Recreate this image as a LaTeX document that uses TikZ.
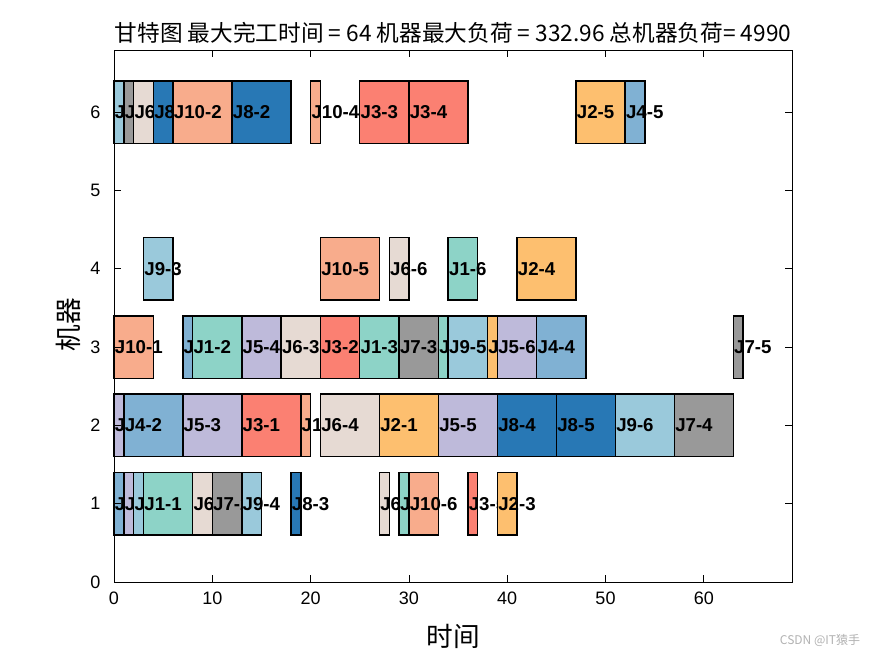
\documentclass[tikz,border=0pt]{standalone}
\usepackage{fontspec}
\setmainfont{Liberation Sans}
\newfontfamily\cjk{Noto Sans CJK SC}
\definecolor{cA}{HTML}{8DD3C7}
\definecolor{cB}{HTML}{FDBF6F}
\definecolor{cC}{HTML}{FB8072}
\definecolor{cD}{HTML}{80B1D3}
\definecolor{cE}{HTML}{BEBADA}
\definecolor{cF}{HTML}{E6DAD3}
\definecolor{cG}{HTML}{999999}
\definecolor{cH}{HTML}{2878B5}
\definecolor{cI}{HTML}{9AC9DB}
\definecolor{cJ}{HTML}{F8AC8C}
\tikzset{
  bar/.style={draw=black, line width=1.1pt},
  blabel/.style={anchor=west, inner sep=0pt, xshift=0.5pt, font=\fontsize{14}{16}\selectfont\bfseries},
  tick/.style={font=\fontsize{13.5}{15}\selectfont},
}
\begin{document}
\begin{tikzpicture}[x=0.75pt,y=0.75pt]
\useasboundingbox (0,0) rectangle (875,656);
\fill[white] (0,0) rectangle (875,656);
\begin{scope}[shift={(114,74)}, x=7.3725pt, y=58.725pt]
\foreach \m/\s/\e/\c/\t [count=\i] in {
 1/0/1/cD/J4-1, 1/1/2/cE/J5-2, 1/2/3/cI/J9-2, 1/3/8/cA/J1-1, 1/8/10/cF/J6-2, 1/10/13/cG/J7-2, 1/13/15/cI/J9-4, 1/18/19/cH/J8-3, 1/27/28/cF/J6-5, 1/29/30/cA/J1-5, 1/30/33/cJ/J10-6, 1/36/37/cC/J3-5, 1/39/41/cB/J2-3,
 2/0/1/cE/J5-1, 2/1/7/cD/J4-2, 2/7/13/cE/J5-3, 2/13/19/cC/J3-1, 2/19/20/cJ/J10-3, 2/21/27/cF/J6-4, 2/27/33/cB/J2-1, 2/33/39/cE/J5-5, 2/39/45/cH/J8-4, 2/45/51/cH/J8-5, 2/51/57/cI/J9-6, 2/57/63/cG/J7-4,
 3/0/4/cJ/J10-1, 3/7/8/cD/J4-3, 3/8/13/cA/J1-2, 3/13/17/cE/J5-4, 3/17/21/cF/J6-3, 3/21/25/cC/J3-2, 3/25/29/cA/J1-3, 3/29/33/cG/J7-3, 3/33/34/cA/J1-4, 3/34/38/cI/J9-5, 3/38/39/cB/J2-2, 3/39/43/cE/J5-6, 3/43/48/cD/J4-4, 3/63/64/cG/J7-5,
 4/3/6/cI/J9-3, 4/21/27/cJ/J10-5, 4/28/30/cF/J6-6, 4/34/37/cA/J1-6, 4/41/47/cB/J2-4,
 6/0/1/cI/J9-1, 6/1/2/cG/J7-1, 6/2/4/cF/J6-1, 6/4/6/cH/J8-1, 6/6/12/cJ/J10-2, 6/12/18/cH/J8-2, 6/20/21/cJ/J10-4, 6/25/30/cC/J3-3, 6/30/36/cC/J3-4, 6/47/52/cB/J2-5, 6/52/54/cD/J4-5}
{
  \draw[bar, fill=\c] (\s,\m-0.4) rectangle (\e,\m+0.4);
  \node[blabel] (L\i) at (\s,\m) {\t};
}
\draw[line width=0.6pt] (0,0) rectangle (69,6.79);
\foreach \x in {0,10,...,60} {
  \draw[line width=0.6pt] (\x,0) -- (\x,0.085);
  \draw[line width=0.6pt] (\x,6.79) -- (\x,6.705);
  \node[tick, anchor=north] (xt\x) at (\x,-0.07) {\x};
}
\foreach \y in {0,...,6} {
  \draw[line width=0.6pt] (0,\y) -- (0.7,\y);
  \draw[line width=0.6pt] (69,\y) -- (68.3,\y);
  \node[tick, anchor=east] (yt\y) at (-0.9,\y) {\y};
}
\end{scope}
\node[font=\cjk\fontsize{17}{19}\selectfont] (title) at (453,623) {甘特图 最大完工时间 = 64 机器最大负荷 = 332.96 总机器负荷= 4990};
\node[font=\cjk\fontsize{20}{22}\selectfont] (xl) at (453,20) {时间};
\node[font=\cjk\fontsize{20}{22}\selectfont, rotate=90] (yl) at (68,331) {机器};
\node[font=\cjk\fontsize{9}{11}\selectfont, text=gray!60] (wm) at (820,16) {CSDN @IT猿手};
\end{tikzpicture}
\end{document}
